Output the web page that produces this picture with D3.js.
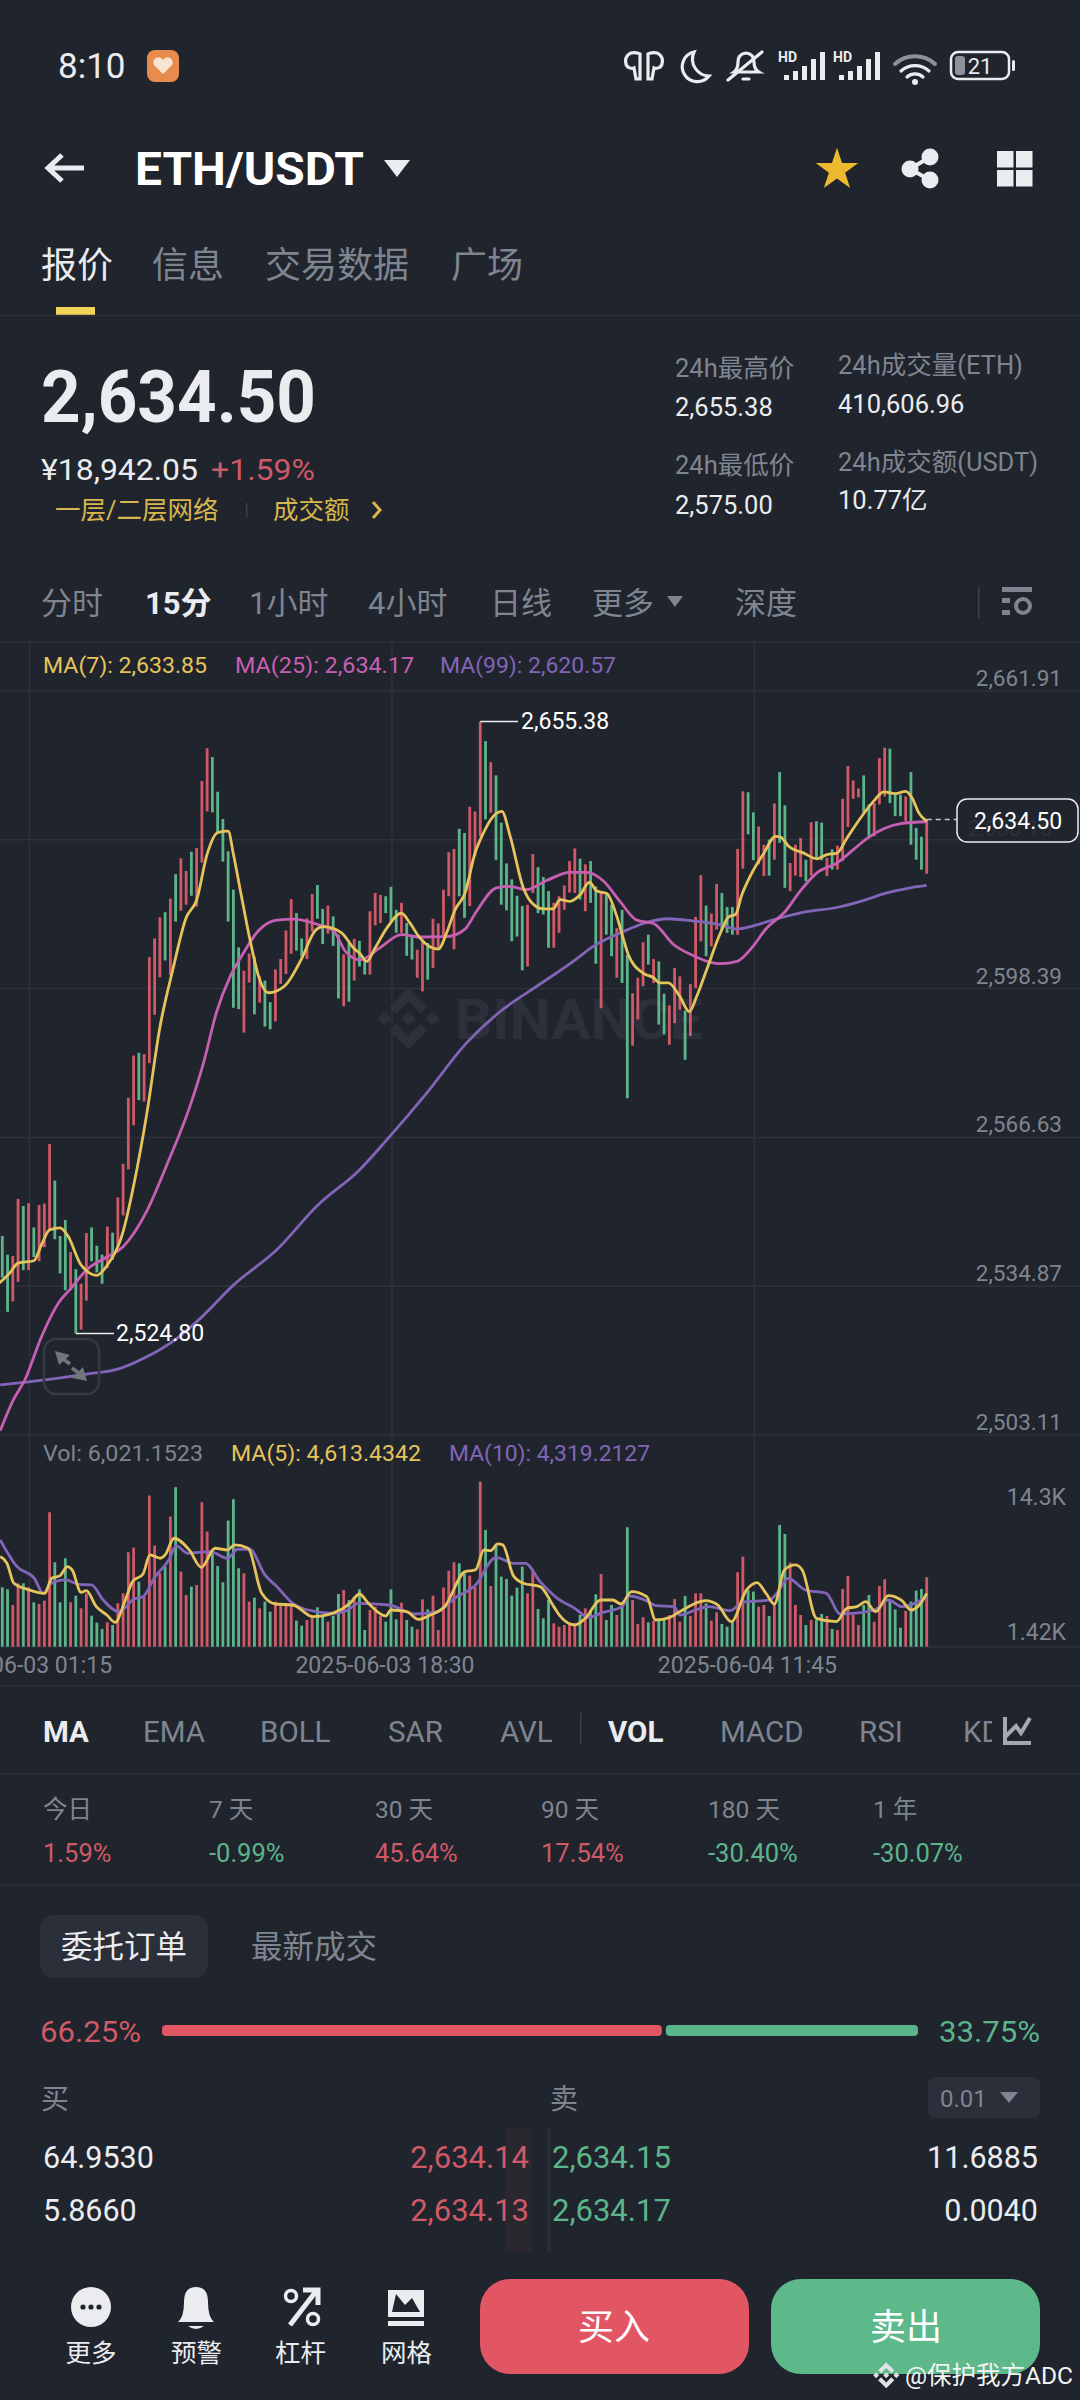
<!DOCTYPE html>
<html>
<head>
<meta charset="utf-8">
<script src="https://cdn.jsdelivr.net/npm/d3@7.9.0/dist/d3.min.js"></script>
<style>
  html, body { margin: 0; padding: 0; background: #20242d; }
  svg { display: block; }
  text { font-family: Roboto, "Noto Sans CJK SC", sans-serif; dominant-baseline: central; }
</style>
</head>
<body>
<div id="chart"></div>
<script>
// candles (red = up, green = down)
const candleHigh = [
  2545.6,2541.6,2541.3,2553.5,2552.0,2552.6,2547.4,2552.2,2552.5,2565.2,
  2557.4,2545.6,2549.0,2542.2,2538.5,2535.4,2546.2,2547.4,2543.5,2541.6,
  2547.6,2546.3,2553.8,2561.0,2575.1,2584.1,2584.7,2584.4,2605.1,2609.1,
  2613.6,2614.7,2617.6,2622.8,2626.2,2623.5,2627.6,2628.4,2642.7,2649.7,
  2647.8,2640.4,2634.6,2627.7,2619.5,2607.2,2602.2,2605.9,2605.2,2601.0,
  2600.1,2595.5,2602.5,2604.7,2610.8,2617.5,2614.5,2609.1,2613.4,2618.6,
  2620.5,2615.4,2616.1,2613.8,2609.9,2605.7,2608.1,2609.0,2608.6,2604.7,
  2614.9,2618.8,2618.4,2618.1,2620.1,2615.2,2616.7,2612.4,2609.9,2606.7,
  2608.8,2608.1,2613.3,2612.3,2619.5,2627.5,2628.2,2632.5,2631.6,2637.2,
  2636.2,2655.38,2651.2,2646.7,2643.9,2633.8,2625.1,2621.7,2618.2,2616.0,
  2616.3,2627.1,2624.3,2622.2,2619.2,2616.7,2618.1,2620.4,2625.6,2628.3,
  2626.1,2624.9,2625.6,2620.2,2619.2,2618.4,2616.3,2611.3,2615.2,2605.6,
  2597.4,2600.7,2608.3,2609.9,2604.7,2604.2,2597.3,2594.8,2602.8,2601.0,
  2593.7,2599.4,2613.7,2622.6,2616.1,2614.4,2620.7,2618.8,2615.8,2615.8,
  2628.2,2640.5,2640.3,2636.0,2633.0,2629.1,2630.2,2637.9,2644.6,2637.5,
  2625.2,2629.1,2630.5,2625.9,2633.9,2634.1,2633.8,2626.3,2628.1,2628.9,
  2638.9,2645.9,2642.8,2641.1,2643.9,2637.7,2638.0,2647.6,2649.8,2649.6,
  2640.1,2639.8,2639.4,2644.6,2632.7,2630.8,2634.5
];
const candleLow = [
  2536.7,2529.4,2531.6,2535.8,2538.3,2538.3,2541.1,2540.2,2543.2,2547.1,
  2544.9,2537.6,2534.0,2534.0,2524.8,2525.6,2531.8,2540.2,2537.8,2535.4,
  2538.7,2540.5,2543.5,2550.0,2559.8,2569.2,2574.6,2574.3,2582.5,2592.8,
  2600.8,2604.4,2601.3,2612.7,2615.0,2616.3,2618.2,2615.9,2625.3,2636.2,
  2636.0,2631.6,2625.5,2612.7,2594.3,2594.0,2589.0,2599.7,2592.9,2595.4,
  2590.3,2589.7,2591.4,2599.4,2601.5,2605.8,2606.5,2605.2,2604.7,2610.6,
  2613.3,2607.9,2610.1,2607.5,2596.3,2594.6,2595.6,2600.1,2603.1,2601.4,
  2601.4,2611.9,2612.4,2614.5,2612.8,2610.3,2610.3,2605.4,2604.6,2600.7,
  2597.8,2600.3,2602.8,2606.7,2609.5,2618.1,2606.8,2618.1,2613.5,2616.0,
  2626.6,2630.9,2634.5,2635.9,2625.8,2616.3,2615.1,2608.5,2609.5,2602.3,
  2603.1,2618.8,2614.5,2614.2,2607.1,2607.1,2610.3,2615.2,2618.9,2618.8,
  2617.4,2614.9,2616.7,2603.7,2594.2,2609.9,2605.3,2600.7,2599.6,2575.0,
  2586.2,2591.8,2598.9,2603.5,2599.6,2590.7,2588.6,2586.4,2591.0,2593.9,
  2583.2,2588.3,2598.5,2608.5,2605.3,2607.4,2611.0,2611.0,2610.3,2609.9,
  2609.9,2624.0,2631.3,2625.8,2624.9,2622.4,2622.5,2625.9,2629.5,2619.9,
  2619.2,2622.5,2622.2,2621.3,2622.5,2626.3,2625.8,2622.4,2623.8,2623.8,
  2625.6,2632.9,2638.9,2639.2,2635.9,2630.9,2630.9,2637.7,2639.4,2638.0,
  2635.2,2635.2,2634.1,2629.1,2625.9,2623.8,2622.9
];
const candleDir = ('ggrrgrgrrr' + 'gggrgrrggg' + 'rgrrrrgrrr' + 'rgrgrrgrrr' + 'ggggggrrgr' +
  'ggrrrrggrr' + 'ggrggrgrgg' + 'rrrgggrggr' + 'rgrrrrrggr' + 'rrgrgggggg' +
  'rrgggrrrrr' + 'grggrggrgg' + 'rrrgrggrrr' + 'grrrgrrggg' + 'rrggrrgrgg' +
  'rrrgrggrgr' + 'rrrrggrrrg' + 'ggrgggr').split('');

const volumes = [
  5144,4971,3613,5491,5491,5144,3844,3699,3988,11647,
  7312,3844,7659,3844,4422,3324,4624,2688,2081,1532,
  2110,1879,3757,4624,8179,8583,5636,4335,13092,8757,
  6358,6936,11271,13814,6503,4480,5202,5347,12514,9971,
  8092,6994,5578,10924,12774,6792,6358,3902,4248,3324,
  3902,3035,3902,3699,3699,3613,2254,1821,2312,2601,
  3410,2746,2168,2688,4566,4913,4046,4335,4971,1445,
  3179,3468,2659,2168,4971,2370,3815,2312,1734,1503,
  4104,3237,4422,1445,5115,6589,7312,7225,6358,6156,
  5202,14306,10115,5260,8815,6069,5867,4422,5115,6936,
  4624,6705,3266,2457,4046,2023,1734,1879,2023,2023,
  2746,3324,3179,4537,6300,2312,3613,2746,3468,10346,
  4046,1965,2543,2110,2254,2312,2312,2746,4133,2168,
  4393,2659,4624,4624,3757,2254,2977,1965,1734,2168,
  6445,7803,4913,4769,3468,3613,2659,3757,10549,9768,
  7283,3613,2746,1879,2312,2312,2832,2659,1532,1445,
  5000,6127,2746,1879,3613,4480,2168,5260,5838,4046,
  3237,1647,3092,3902,4855,5000,6021
];

// moving averages as [candle index, value]
const ma7 = [[-1,2535.1],[1.5,2537.8],[3,2539.8],[6,2540.3],[7.5,2543.8],[9,2546.9],[11,2547.3],[12.5,2545.6],[15,2539.4],[18,2537.2],[20,2539.4],[23,2546.5],[25,2556.3],[27.5,2571.6],[30,2590.1],[32.5,2602.6],[35,2613.5],[37,2617.3],[39,2627.1],[41,2631.7],[43,2632.0],[44,2627.1],[45.3,2619.5],[47.2,2608.6],[48.8,2601.0],[50.7,2597.5],[53.8,2599.0],[57,2604.8],[59.6,2610.8],[61.1,2611.6],[64.6,2610.3],[66.9,2607.0],[68.1,2605.9],[69.4,2604.2],[71,2607.1],[73.2,2611.3],[76,2614.5],[77.6,2612.4],[79.5,2609.2],[83,2606.8],[84.6,2610.3],[86.2,2615.2],[88.1,2618.8],[90,2627.3],[91.6,2631.6],[93.2,2634.8],[95.1,2636.2],[96.7,2630.9],[99.2,2619.9],[100.8,2616.7],[103,2615.4],[104.9,2615.4],[106.2,2617.4],[108.1,2617.0],[110,2618.4],[111.8,2621.1],[113.2,2619.2],[115.1,2618.7],[117,2613.8],[118.3,2608.8],[119.2,2605.6],[122,2601.7],[124,2600.7],[125.2,2599.6],[126.8,2599.6],[129,2596.7],[130.8,2593.5],[132.2,2596.7],[134.1,2602.4],[136.7,2610.2],[138.3,2613.7],[139.6,2614.2],[140.8,2618.4],[142.4,2622.4],[145,2627.3],[147.2,2630.9],[148.1,2630.8],[149.7,2628.8],[152.6,2627.3],[155.1,2626.1],[157,2627.0],[158.9,2627.3],[160.8,2630.5],[163.4,2634.8],[165.9,2638.4],[167.8,2640.4],[170,2640.0],[172,2640.5],[173.2,2639.1],[174.5,2635.9],[176,2634.1]];
const ma25 = [[-0.4,2504.0],[2.1,2510.6],[4.3,2514.9],[7.5,2524.2],[10.7,2531.3],[12.9,2534.2],[16.1,2538.4],[19.9,2541.1],[23,2543.3],[27.5,2550.9],[31.3,2560.7],[35.7,2573.2],[38.3,2582.5],[40.8,2593.4],[43.4,2601.0],[45.6,2605.4],[48.8,2610.8],[52.3,2613.0],[55.4,2613.2],[60.5,2611.9],[63,2610.8],[65.3,2606.4],[68.1,2604.5],[71.9,2607.1],[76,2609.9],[79.5,2609.4],[84.6,2609.5],[88.1,2611.1],[90.3,2614.9],[94.1,2619.9],[96.7,2620.2],[99.8,2619.5],[103.7,2621.5],[108.1,2623.2],[111.3,2623.2],[114.5,2621.3],[117.6,2617.0],[120.8,2613.0],[124,2612.3],[127.8,2607.8],[131.6,2605.4],[134.8,2604.0],[136.7,2603.7],[139.9,2604.2],[142.7,2607.1],[145.3,2611.0],[149.1,2614.9],[151.9,2619.2],[155.1,2623.1],[158.9,2625.2],[162.1,2628.1],[164.6,2630.4],[167.8,2632.5],[171,2633.6],[176,2634.0]];
const ma99 = [[-0.4,2513.8],[4.6,2514.4],[11,2515.3],[16.7,2516.2],[21.8,2517.1],[27.5,2519.8],[33.2,2523.7],[37.7,2528.0],[44,2535.1],[52.3,2542.7],[59.9,2552.0],[68.1,2559.8],[73.2,2566.1],[80.8,2576.1],[88.4,2586.8],[94.8,2593.5],[101.8,2598.9],[108.7,2604.2],[112.5,2607.4],[118.3,2610.6],[122.7,2612.5],[126.5,2613.3],[131.6,2612.8],[136.7,2612.0],[139.9,2611.1],[143,2611.8],[147.5,2613.3],[152.6,2614.7],[158.9,2615.7],[163.4,2617.0],[168.4,2618.8],[172.9,2619.9],[176,2620.4]];
const volMa5 = [[-0.4,7803],[0.9,7225],[2.2,5491],[4.8,4971],[8.1,4624],[9.4,5925],[11,6156],[12.4,6936],[13.3,6647],[15,4711],[16,4855],[17.9,3468],[19.9,2746],[21.5,2110],[23.2,3757],[24.8,5636],[26.8,6300],[28.1,7948],[30.1,7659],[31,7948],[32.7,9393],[35.6,8381],[37.9,6878],[40.5,8526],[42.9,8381],[44.2,8815],[46.8,8526],[49.4,4624],[52,3699],[55.3,3613],[59.2,2601],[63.2,2948],[66.2,3757],[68,4566],[69.7,3757],[73,2659],[74,3179],[77,3035],[79.2,2370],[81.5,2746],[84.2,3468],[88.1,6503],[90.1,6647],[91.7,8381],[93,8323],[94.3,8901],[95.3,8815],[97.3,6156],[99.2,5491],[102.4,5202],[105,3468],[106.3,2601],[109,1879],[111,2457],[113.9,4046],[116.2,4046],[117.8,3699],[119.8,4769],[122.7,4335],[124.4,2312],[127,2514],[129.3,3121],[133.9,3988],[136.2,3613],[138.8,2168],[141.7,4913],[143.7,5549],[145.4,4624],[147,3699],[148.9,6647],[151,7081],[152.3,6647],[155,2457],[158.8,2168],[160.8,3324],[162.7,3468],[164.4,3902],[166.3,3035],[168.7,4422],[171.3,3988],[173,3179],[174.6,3613],[176,4613]];
const volMa10 = [[-0.4,9248],[2.8,6936],[6.1,5925],[7.8,4624],[9.1,5433],[12,5780],[14.6,5404],[17,5347],[19.2,4046],[22.2,3035],[25.1,4133],[26.8,4335],[29.1,6069],[31.7,7514],[33.1,8728],[35.3,8092],[39.6,8237],[42.9,7659],[44.8,8439],[47.1,8439],[50,6214],[52.3,5202],[55.3,3757],[58.2,3179],[63.2,2890],[65.8,3179],[67.8,3757],[73.7,3613],[78.6,2832],[82.8,3035],[86.1,4191],[90.1,5347],[94,7745],[97.3,7225],[99.6,7225],[102.4,5636],[105.7,4191],[109,3324],[111.6,2543],[114.2,2948],[118,3468],[119.4,4393],[123,3902],[124.4,3555],[127.9,3468],[129,2746],[132,3179],[134.5,3468],[138.5,3121],[141,3844],[146.1,4046],[147.5,4624],[149.6,5925],[152.9,4913],[156.9,4624],[159.5,2832],[163.4,2948],[166.3,3237],[168.7,4046],[171.3,3468],[176,4319]];

const priceTicks = [2661.91, 2630.15, 2598.39, 2566.63, 2534.87, 2503.11];
const priceTickLabels = ['2,661.91', '2,630.15', '2,598.39', '2,566.63', '2,534.87', '2,503.11'];
const timeTickIdx = [5, 74, 143];
const timeTickLabels = ['2025-06-03 01:15', '2025-06-03 18:30', '2025-06-04 11:45'];
const lastPrice = 2634.50;
const highIdx = 91, highPrice = 2655.38;
const lowIdx = 14, lowPrice = 2524.80;

const periodNames = ['今日', '7 天', '30 天', '90 天', '180 天', '1 年'];
const periodValues = ['1.59%', '-0.99%', '45.64%', '17.54%', '-30.40%', '-30.07%'];
const bidQty = ['64.9530', '5.8660', '0.0081'];
const bidPrice = ['2,634.14', '2,634.13', '2,634.12'];
const askPrice = ['2,634.15', '2,634.17', '2,634.18'];
const askQty = ['11.6885', '0.0040', '7.4717'];
const buyShare = 66.25, sellShare = 33.75;

// colours
const BG = '#20242d', GRID = '#2c313b', RED = '#cf5a67', GREEN = '#5cb58a';
const YEL = '#e6c45c', PINK = '#c75fb3', PUR = '#8265b8';
const GRAY = '#7f8590', WHITE = '#eaecef';

const svg = d3.select('#chart').append('svg').attr('width', 1080).attr('height', 2400)
  .style('background', BG);

// opts.w stretches the text to the measured width (the app font is a narrow DIN)
function label(g, x, y, s, size, fill, opts = {}) {
  const t = g.append('text').attr('x', x).attr('y', y).text(s)
    .attr('font-size', size).attr('fill', fill)
    .attr('font-weight', opts.weight || 400)
    .attr('text-anchor', opts.anchor || 'start');
  if (opts.w) t.attr('textLength', opts.w).attr('lengthAdjust', 'spacingAndGlyphs');
  return t;
}

const BINANCE_LOGO = 'M38.73 53.2L63 28.93l24.28 24.28 14.12-14.12L63 .8 24.61 39.19zM.8 63l14.12-14.12L29.04 63 14.92 77.12zM38.73 72.8L63 97.07l24.28-24.28 14.13 14.11L63 125.2 24.6 86.8zM96.96 63l14.12-14.12 14.12 14.12-14.12 14.12zM77.33 63L63 48.67 48.67 63 63 77.33z';

// --- scales ---
const x = d3.scaleLinear().domain([0, 176]).range([2.3, 926.7]);
const yPrice = d3.scaleLinear().domain([2503.11, 2661.91]).range([1435, 691]);
const yVol = d3.scaleLinear().domain([0, 14300]).range([1646.7, 1481.6]);
const barW = 2.8;

// --- status bar ---
const head = svg.append('g');
label(head, 58, 66, '8:10', 35, WHITE);
head.append('rect').attr('x', 147).attr('y', 50).attr('width', 32).attr('height', 32).attr('rx', 8).attr('fill', '#e88c4e');
head.append('path').attr('d', 'M163 74 l-9 -9 a5 5 0 0 1 9 -5 a5 5 0 0 1 9 5 z').attr('fill', '#f9e3d3');
const icon = head.append('g').attr('fill', 'none').attr('stroke', WHITE).attr('stroke-width', 3.2).attr('stroke-linecap', 'round');
icon.append('path').attr('d', 'M640 54 c-10 -4 -16 2 -14 10 c1 4 6 5 8 4 l2 11 h4 z M648 54 c10 -4 16 2 14 10 c-1 4 -6 5 -8 4 l-2 11 h-4 z');
icon.append('path').attr('d', 'M694 52 a15 15 0 1 0 15 24 a17 17 0 0 1 -15 -24 z');
icon.append('path').attr('d', 'M734 72 q4 -3 4 -10 q0 -8 8 -9 q8 1 8 9 q0 7 5 10 z M728 80 L762 52 M743 79 h6');
const signalHeights = [5, 9, 14, 21, 28];
[[778, 'HD'], [833, 'HD']].forEach(([bx, t]) => {
  label(head, bx, 57, t, 14, WHITE, { weight: 700 });
  signalHeights.forEach((h, k) => head.append('rect').attr('x', bx + 6 + k * 9).attr('y', 80 - h)
    .attr('width', 5).attr('height', h).attr('fill', WHITE));
});
icon.append('path').attr('d', 'M895 64 a30 30 0 0 1 40 0').attr('stroke', '#8d919a').attr('stroke-width', 4);
icon.append('path').attr('d', 'M901 71 a21 21 0 0 1 28 0 M907 77 a12 12 0 0 1 16 0');
head.append('circle').attr('cx', 915).attr('cy', 82).attr('r', 3).attr('fill', WHITE);
head.append('rect').attr('x', 951).attr('y', 52).attr('width', 58).attr('height', 27).attr('rx', 7).attr('fill', 'none').attr('stroke', WHITE).attr('stroke-width', 2.5);
head.append('rect').attr('x', 955).attr('y', 56).attr('width', 10).attr('height', 19).attr('rx', 3).attr('fill', '#8d919a');
head.append('rect').attr('x', 1012).attr('y', 60).attr('width', 3).attr('height', 11).attr('rx', 1.5).attr('fill', WHITE);
label(head, 980, 66, '21', 22, WHITE, { anchor: 'middle' });

// --- nav row ---
head.append('path').attr('d', 'M84 168 H50 M62 155 L48 168 L62 181').attr('fill', 'none').attr('stroke', WHITE).attr('stroke-width', 5);
label(head, 135, 169, 'ETH/USDT', 46, '#ffffff', { weight: 700, w: 229 });
head.append('path').attr('d', 'M384 160 H410 L397 177 Z').attr('fill', WHITE);
head.append('path').attr('d', d3.symbol(d3.symbolStar, 560)()).attr('transform', 'translate(837,170) ').attr('fill', '#edb92e');
const share = head.append('g').attr('fill', WHITE);
[[930, 157], [910, 169], [930, 180]].forEach(p => share.append('circle').attr('cx', p[0]).attr('cy', p[1]).attr('r', 8.5));
share.append('path').attr('d', 'M930 157 L910 169 L930 180').attr('fill', 'none').attr('stroke', WHITE).attr('stroke-width', 4);
[[997, 151], [1016, 151], [997, 170], [1016, 170]].forEach(p => head.append('rect').attr('x', p[0]).attr('y', p[1])
  .attr('width', 16.5).attr('height', 16.5).attr('fill', WHITE));

// --- tabs ---
[['报价', 41, WHITE], ['信息', 152, GRAY], ['交易数据', 265, GRAY], ['广场', 451, GRAY]].forEach(t => label(head, t[1], 266, t[0], 36, t[2]));
head.append('rect').attr('x', 56).attr('y', 307).attr('width', 39).attr('height', 8).attr('fill', '#f0d35a');
head.append('line').attr('x1', 0).attr('x2', 1080).attr('y1', 315.5).attr('y2', 315.5).attr('stroke', GRID).attr('stroke-width', 1.5);

// --- price block ---
label(head, 41, 397, '2,634.50', 72, WHITE, { weight: 700, w: 275 });
label(head, 41, 469, '¥18,942.05', 30, WHITE, { w: 157 });
label(head, 211, 469, '+1.59%', 30, RED, { w: 104 });
label(head, 55, 510, '一层/二层网络', 25.5, '#d8b64e');
head.append('rect').attr('x', 246).attr('y', 503).attr('width', 1.5).attr('height', 14).attr('fill', '#3a3f49');
label(head, 273, 510, '成交额', 25.5, '#d8b64e');
head.append('path').attr('d', 'M373 502 L380 510 L373 518').attr('fill', 'none').attr('stroke', '#d8b64e').attr('stroke-width', 3);
[[675, 368, '24h最高价', GRAY], [675, 407, '2,655.38', WHITE], [675, 465, '24h最低价', GRAY], [675, 505, '2,575.00', WHITE],
 [838, 365, '24h成交量(ETH)', GRAY], [838, 404, '410,606.96', WHITE], [838, 462, '24h成交额(USDT)', GRAY], [838, 500, '10.77亿', WHITE]]
  .forEach(r => label(head, r[0], r[1], r[2], 25.5, r[3]));

// --- timeframe row ---
[['分时', 41, GRAY, 400], ['15分', 145, WHITE, 700], ['1小时', 249, GRAY, 400], ['4小时', 368, GRAY, 400],
 ['日线', 490, GRAY, 400], ['更多', 592, GRAY, 400], ['深度', 735, GRAY, 400]]
  .forEach(t => label(head, t[1], 603, t[0], 31, t[2], { weight: t[3] }));
head.append('path').attr('d', 'M667 596 H683 L675 607 Z').attr('fill', GRAY);
head.append('rect').attr('x', 978).attr('y', 587).attr('width', 1.5).attr('height', 31).attr('fill', '#3a3f49');
head.append('rect').attr('x', 1002).attr('y', 587).attr('width', 30).attr('height', 5).attr('fill', GRAY);
head.append('rect').attr('x', 1002).attr('y', 598).attr('width', 8).attr('height', 5).attr('fill', GRAY);
head.append('rect').attr('x', 1002).attr('y', 610).attr('width', 8).attr('height', 5).attr('fill', GRAY);
head.append('circle').attr('cx', 1023).attr('cy', 606).attr('r', 7).attr('fill', 'none').attr('stroke', GRAY).attr('stroke-width', 4);

// --- watermark, below the marks ---
const mark = svg.append('g').attr('fill', '#2b303a');
mark.append('path').attr('d', BINANCE_LOGO).attr('transform', 'translate(377,987) scale(0.5)');
label(mark, 455, 1020, 'BINANCE', 55, '#2b303a', { weight: 700, w: 248 });

// --- grid ---
const grid = svg.append('g').attr('stroke', GRID).attr('stroke-width', 1.5);
grid.selectAll('line.h').data(priceTicks).join('line').attr('class', 'h')
  .attr('x1', 0).attr('x2', 1080).attr('y1', d => yPrice(d)).attr('y2', d => yPrice(d));
grid.append('line').attr('x1', 0).attr('x2', 1080).attr('y1', 642).attr('y2', 642);
grid.append('line').attr('x1', 0).attr('x2', 1080).attr('y1', yVol(0)).attr('y2', yVol(0));
grid.selectAll('line.v').data(timeTickIdx).join('line').attr('class', 'v')
  .attr('x1', d => x(d) + 1).attr('x2', d => x(d) + 1).attr('y1', 642).attr('y2', yVol(0));

// --- candles ---
svg.append('g').selectAll('rect').data(candleHigh).join('rect')
  .attr('x', (d, i) => x(i) - barW / 2)
  .attr('width', barW)
  .attr('y', d => yPrice(d))
  .attr('height', (d, i) => yPrice(candleLow[i]) - yPrice(d))
  .attr('fill', (d, i) => candleDir[i] === 'r' ? RED : GREEN);

// --- MA lines ---
const priceLine = d3.line().x(d => x(d[0])).y(d => yPrice(d[1])).curve(d3.curveMonotoneX);
[[ma99, PUR], [ma25, PINK], [ma7, YEL]].forEach(([data, color]) => {
  svg.append('path').attr('d', priceLine(data)).attr('fill', 'none').attr('stroke', color).attr('stroke-width', 2.8);
});

// --- volume ---
svg.append('g').selectAll('rect').data(volumes).join('rect')
  .attr('x', (d, i) => x(i) - barW / 2)
  .attr('width', barW)
  .attr('y', d => yVol(d))
  .attr('height', d => yVol(0) - yVol(d))
  .attr('fill', (d, i) => candleDir[i] === 'r' ? RED : GREEN);
const volLine = d3.line().x(d => x(d[0])).y(d => yVol(d[1])).curve(d3.curveMonotoneX);
[[volMa10, PUR], [volMa5, YEL]].forEach(([data, color]) => {
  svg.append('path').attr('d', volLine(data)).attr('fill', 'none').attr('stroke', color).attr('stroke-width', 2.8);
});

// --- chart texts ---
const txt = svg.append('g');
label(txt, 43, 665.5, 'MA(7): 2,633.85', 22, YEL, { w: 164 });
label(txt, 235, 665.5, 'MA(25): 2,634.17', 22, PINK, { w: 179 });
label(txt, 440, 665.5, 'MA(99): 2,620.57', 22, PUR, { w: 176 });
label(txt, 43, 1453, 'Vol: 6,021.1523', 22, GRAY, { w: 160 });
label(txt, 231, 1453, 'MA(5): 4,613.4342', 22, YEL, { w: 190 });
label(txt, 449, 1453, 'MA(10): 4,319.2127', 22, PUR, { w: 201 });

priceTicks.forEach((t, i) => {
  if (i === 1) return;
  label(txt, 1062, yPrice(t) - 13, priceTickLabels[i], 22.5, GRAY, { anchor: 'end' });
});
label(txt, 1066, 1497, '14.3K', 23, GRAY, { anchor: 'end' });
label(txt, 1066, 1632, '1.42K', 23, GRAY, { anchor: 'end' });
timeTickIdx.forEach((t, i) => label(txt, x(t) - 6, 1665, timeTickLabels[i], 23, GRAY, { anchor: 'middle' }));

// high and low markers
txt.append('line').attr('x1', x(highIdx)).attr('x2', 518).attr('y1', yPrice(highPrice)).attr('y2', yPrice(highPrice)).attr('stroke', WHITE).attr('stroke-width', 1.5);
label(txt, 521, yPrice(highPrice), '2,655.38', 23, '#ffffff');
txt.append('line').attr('x1', x(lowIdx)).attr('x2', 114).attr('y1', yPrice(lowPrice)).attr('y2', yPrice(lowPrice)).attr('stroke', WHITE).attr('stroke-width', 1.5);
label(txt, 116, yPrice(lowPrice), '2,524.80', 23, '#ffffff');

// last price tag
txt.append('line').attr('x1', x(176)).attr('x2', 957).attr('y1', yPrice(lastPrice)).attr('y2', yPrice(lastPrice))
  .attr('stroke', '#c4c7cc').attr('stroke-width', 1.5).attr('stroke-dasharray', '5 4');
txt.append('rect').attr('x', 957).attr('y', 799).attr('width', 121).attr('height', 43).attr('rx', 10)
  .attr('fill', BG).attr('stroke', WHITE).attr('stroke-width', 1.5);
label(txt, 1052, 828, priceTickLabels[1], 22, GRAY, { anchor: 'end' }).attr('opacity', 0.12);
label(txt, 1018, 821, '2,634.50', 23, '#ffffff', { anchor: 'middle' });

// expand button on the chart
txt.append('rect').attr('x', 44).attr('y', 1339).attr('width', 55).attr('height', 55).attr('rx', 12).attr('fill', 'none').attr('stroke', '#343a45').attr('stroke-width', 2.5);
txt.append('path').attr('d', 'M55 1351 L70 1355 L59 1365 Z M87 1381 L72 1378 L83 1367 Z').attr('fill', '#71757f');
txt.append('path').attr('d', 'M62 1358 L70 1364 M80 1374 L72 1368').attr('stroke', '#71757f').attr('stroke-width', 3.5);

// --- indicators row ---
const low = svg.append('g');
[1686, 1774, 1885].forEach(y => low.append('line').attr('x1', 0).attr('x2', 1080).attr('y1', y).attr('y2', y).attr('stroke', GRID).attr('stroke-width', 1.5));
[['MA', 43, WHITE, 700], ['EMA', 143, GRAY, 400], ['BOLL', 260, GRAY, 400], ['SAR', 388, GRAY, 400], ['AVL', 500, GRAY, 400],
 ['VOL', 608, WHITE, 700], ['MACD', 720, GRAY, 400], ['RSI', 859, GRAY, 400], ['KD', 963, GRAY, 400]]
  .forEach(t => label(low, t[1], 1732, t[0], 29.5, t[2], { weight: t[3] }));
low.append('rect').attr('x', 992).attr('y', 1712).attr('width', 60).attr('height', 40).attr('fill', BG);
low.append('rect').attr('x', 580).attr('y', 1713).attr('width', 1.5).attr('height', 32).attr('fill', '#3a3f49');
low.append('path').attr('d', 'M1005 1717 V1743 H1031 M1005 1737 L1016 1726 L1021 1733 L1030 1718').attr('fill', 'none').attr('stroke', '#a4a8b0').attr('stroke-width', 4);

const periodX = [43, 209, 375, 541, 708, 873];
periodNames.forEach((n, i) => {
  label(low, periodX[i], 1809, n, 24.5, GRAY);
  label(low, periodX[i], 1853, periodValues[i], 25.5, periodValues[i][0] === '-' ? GREEN : RED);
});

// --- order book ---
low.append('rect').attr('x', 40).attr('y', 1915).attr('width', 168).attr('height', 63).attr('rx', 14).attr('fill', '#2a2f3a');
label(low, 61, 1947, '委托订单', 31.5, WHITE);
label(low, 251, 1947, '最新成交', 31.5, GRAY);

label(low, 40, 2031, buyShare + '%', 30, RED, { w: 101 });
label(low, 1040, 2031, sellShare + '%', 30, GREEN, { anchor: 'end', w: 101 });
const share1 = d3.scaleLinear().domain([0, 100]).range([162, 918]);
low.append('rect').attr('x', share1(0)).attr('y', 2025).attr('width', share1(buyShare) - share1(0) - 1).attr('height', 11).attr('rx', 4).attr('fill', '#e25563');
low.append('rect').attr('x', share1(buyShare) + 3).attr('y', 2025).attr('width', share1(100) - share1(buyShare) - 3).attr('height', 11).attr('rx', 4).attr('fill', GREEN);

label(low, 41, 2099, '买', 28, GRAY);
label(low, 550, 2099, '卖', 28, GRAY);
low.append('rect').attr('x', 928).attr('y', 2077).attr('width', 112).attr('height', 41).attr('rx', 8).attr('fill', '#2a2f3a');
label(low, 940, 2099, '0.01', 24, GRAY);
low.append('path').attr('d', 'M1000 2092 H1018 L1009 2103 Z').attr('fill', GRAY);

const defs = svg.append('defs');
defs.append('clipPath').attr('id', 'bookClip').append('rect').attr('x', 0).attr('y', 2120).attr('width', 1080).attr('height', 132);
const book = low.append('g').attr('clip-path', 'url(#bookClip)');
book.append('rect').attr('x', 506).attr('y', 2127).attr('width', 26).attr('height', 125).attr('fill', '#2b272f');
book.append('rect').attr('x', 547).attr('y', 2127).attr('width', 4).attr('height', 125).attr('fill', '#262d33');
const rowY = [2157, 2210, 2263];
bidQty.forEach((q, i) => {
  label(book, 43, rowY[i], q, 30.5, WHITE);
  label(book, 529, rowY[i], bidPrice[i], 31, RED, { anchor: 'end' });
  label(book, 552, rowY[i], askPrice[i], 31, GREEN);
  label(book, 1038, rowY[i], askQty[i], 30.5, WHITE, { anchor: 'end' });
});

// --- bottom bar ---
low.append('circle').attr('cx', 91).attr('cy', 2307).attr('r', 20).attr('fill', WHITE);
[-8, 0, 8].forEach(d => low.append('circle').attr('cx', 91 + d).attr('cy', 2307).attr('r', 2.6).attr('fill', BG));
low.append('path').attr('d', 'M178 2322 q6 -5 6 -20 q0 -15 12 -15 q12 0 12 15 q0 15 6 20 z M188 2326 q8 6 16 0 z').attr('fill', WHITE);
low.append('path').attr('d', 'M290 2325 L317 2290 M303 2290 H318 V2305').attr('fill', 'none').attr('stroke', WHITE).attr('stroke-width', 5);
low.append('circle').attr('cx', 291).attr('cy', 2296).attr('r', 5.5).attr('fill', 'none').attr('stroke', WHITE).attr('stroke-width', 3.5);
low.append('circle').attr('cx', 313).attr('cy', 2319).attr('r', 5.5).attr('fill', 'none').attr('stroke', WHITE).attr('stroke-width', 3.5);
low.append('path').attr('d', 'M388 2290 H424 V2317 H388 Z M388 2321 H424 V2326 H388 Z M396 2294 L405 2305 L412 2298 L420 2312 H392 Z').attr('fill', WHITE).attr('fill-rule', 'evenodd');
[['更多', 91], ['预警', 196.5], ['杠杆', 300.5], ['网格', 406.5]].forEach(t => label(low, t[1], 2353, t[0], 25.5, WHITE, { anchor: 'middle' }));

low.append('rect').attr('x', 480).attr('y', 2279).attr('width', 269).attr('height', 95).attr('rx', 30).attr('fill', '#e25563');
low.append('rect').attr('x', 771).attr('y', 2279).attr('width', 269).attr('height', 95).attr('rx', 30).attr('fill', '#5db98a');
label(low, 614, 2328, '买入', 36, '#ffffff', { anchor: 'middle' });
label(low, 906, 2328, '卖出', 36, '#ffffff', { anchor: 'middle' });

// site watermark
low.append('path').attr('d', BINANCE_LOGO).attr('transform', 'translate(873,2362) scale(0.21)').attr('fill', '#dfe1e4');
label(low, 905, 2375, '@保护我方ADC', 24.5, '#f4f4f4');
</script>
</body>
</html>
